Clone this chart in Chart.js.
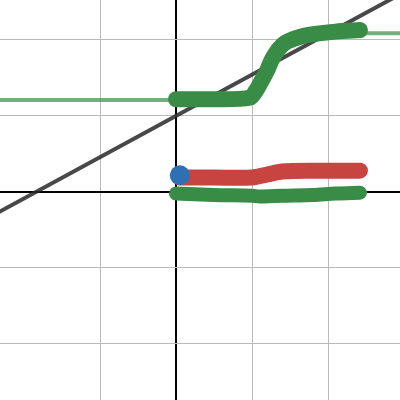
<!DOCTYPE html><html><head><script src="https://cdn.jsdelivr.net/npm/chart.js"></script>
<style>html,body{margin:0;padding:0;background:#fff;overflow:hidden}#w{position:absolute;left:-10px;top:-10px;width:420px;height:420px}</style></head><body><div id="w"><canvas id="c"></canvas></div>
<script>
const lineX=[-2.4,3.0];
const lineY=[-2.4*0.543+1,3.0*0.543+1];
const leftX=[-2.4,0];const leftY=[1.21,1.21];
const rightX=[2.42,3.0];const rightY=[2.09,2.09];
const upX=[0,0.5,0.97,1.05,1.13,1.2,1.26,1.35,1.43,1.6,1.76,2.1,2.42];
const upY=[1.22,1.22,1.24,1.33,1.47,1.6,1.74,1.88,1.96,2.03,2.07,2.11,2.13];
const lowX=[0,0.5,1.0,1.1,1.4,1.8,2.1,2.42];
const lowY=[-0.02,-0.04,-0.05,-0.06,-0.05,-0.04,-0.02,-0.01];
const redX=[0.05,0.5,1.0,1.2,1.4,1.8,2.42];
const redY=[0.19,0.19,0.19,0.23,0.27,0.28,0.28];
const dotX=[0.05];const dotY=[0.22];
const pts=(a,b)=>a.map((x,i)=>({x,y:b[i]}));
const L=(d,c,w)=>({data:d,borderColor:c,borderWidth:w,showLine:true,pointRadius:0,borderCapStyle:'round',borderJoinStyle:'round',tension:0.3});
const g={drawTicks:false,color:c=>Number.isInteger(c.tick.value)?(c.tick.value===0?'#000':'#bbb'):'rgba(0,0,0,0)',lineWidth:c=>c.tick.value===0?2:1};
new Chart(document.getElementById('c'),{type:'scatter',data:{datasets:[
{...L(pts(dotX,dotY),'#2d70b3',0),pointRadius:10,pointBackgroundColor:'#2d70b3',pointBorderWidth:0,showLine:false},
L(pts(redX,redY),'#c74440',16),
L(pts(lowX,lowY),'#388c46',14),
L(pts(upX,upY),'#388c46',16),
L(pts(leftX,leftY),'rgba(56,140,70,0.7)',4),
L(pts(rightX,rightY),'rgba(56,140,70,0.7)',4),
L(pts(lineX,lineY),'rgba(40,40,40,0.85)',4)
]},options:{responsive:true,maintainAspectRatio:false,animation:false,layout:{padding:0},
plugins:{legend:{display:false},tooltip:{enabled:false}},
scales:{x:{type:'linear',min:-2.316,max:2.947,border:{display:false},ticks:{display:false,stepSize:1},grid:g},
y:{type:'linear',min:-2.737,max:2.526,border:{display:false},ticks:{display:false,stepSize:1},grid:g}}}});
</script></body></html>
